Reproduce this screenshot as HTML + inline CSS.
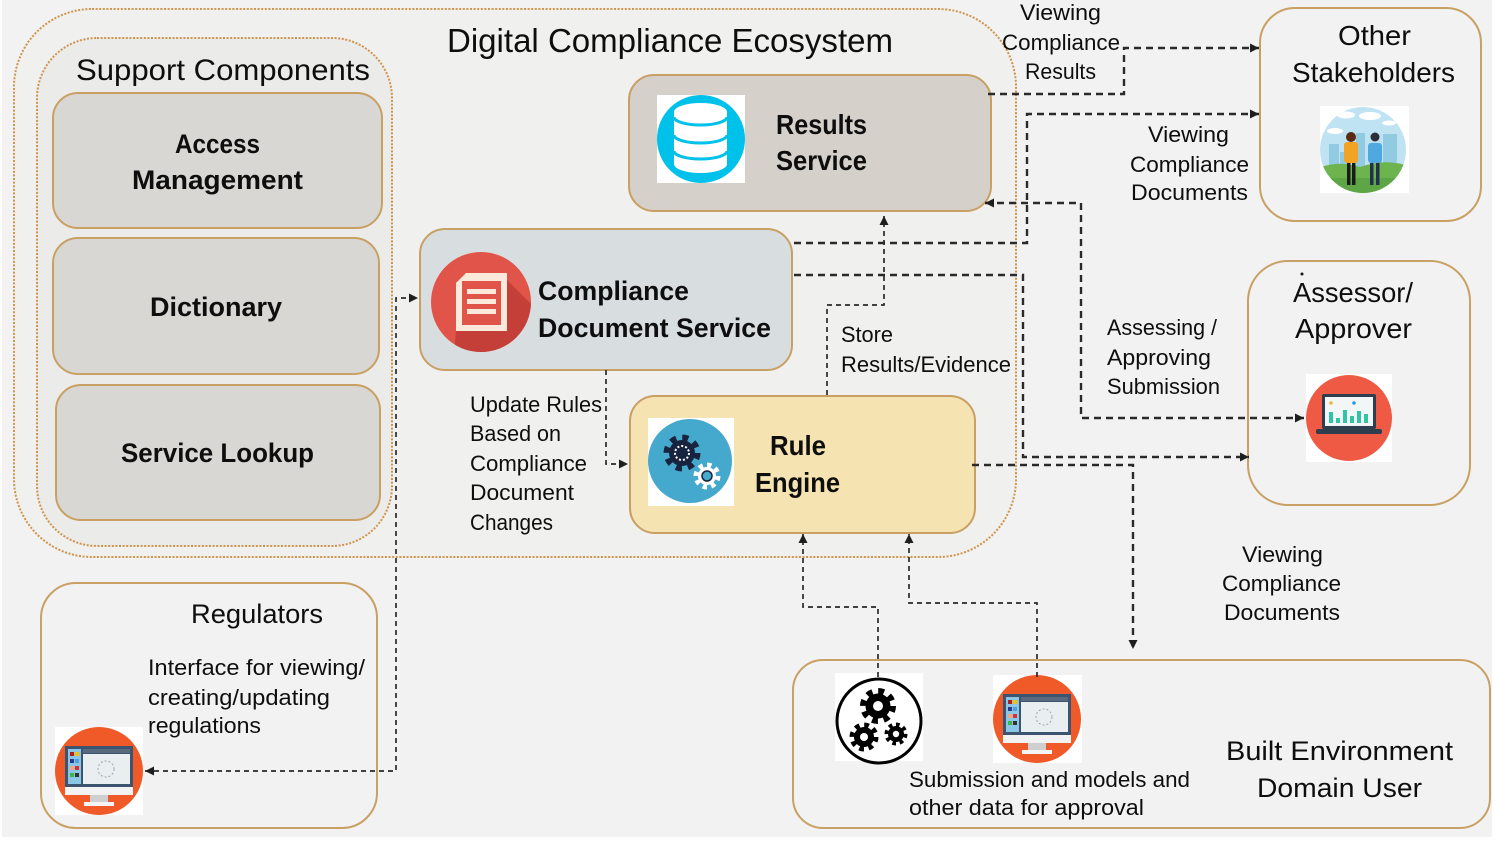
<!DOCTYPE html>
<html><head><meta charset="utf-8">
<style>
html,body{margin:0;padding:0;background:#fff;}
svg{display:block;}
text{font-family:"Liberation Sans",sans-serif;fill:#0e0e0e;}
.t22{font-size:22px;}
.b{font-weight:bold;}
</style></head>
<body>
<svg width="1500" height="845" viewBox="0 0 1500 845" xmlns="http://www.w3.org/2000/svg">
<defs>
<marker id="ah" viewBox="0 0 10 10" refX="10" refY="5" markerWidth="9" markerHeight="9" markerUnits="userSpaceOnUse" orient="auto-start-reverse">
<path d="M0,0 L10,5 L0,10 z" fill="#1e1e1e"/>
</marker>
<clipPath id="cpPeople"><circle cx="1363" cy="150" r="43"/></clipPath>
<clipPath id="cpDoc"><circle cx="481" cy="302" r="50"/></clipPath>
</defs>

<rect x="0" y="0" width="1500" height="845" fill="#ffffff"/>
<rect x="2" y="0" width="1490" height="837" fill="#f2f2f2"/>

<!-- Ecosystem boundary -->
<rect x="14" y="9" width="1002" height="548" rx="78" fill="#f0f0ef" stroke="#d0944a" stroke-width="2" stroke-dasharray="2 1.6"/>
<!-- Support components -->
<rect x="37" y="38" width="355" height="508" rx="60" fill="#ebebea" stroke="#d0944a" stroke-width="2" stroke-dasharray="2 1.6"/>

<text x="76" y="80" font-size="30" textLength="294" lengthAdjust="spacingAndGlyphs">Support Components</text>
<text x="447" y="52" font-size="33" textLength="446" lengthAdjust="spacingAndGlyphs">Digital Compliance Ecosystem</text>

<!-- Support boxes -->
<rect x="53" y="93" width="329" height="135" rx="25" fill="#d9d7d3" stroke="#c9a064" stroke-width="2"/>
<text class="b" x="175" y="153" font-size="27" textLength="85" lengthAdjust="spacingAndGlyphs">Access</text>
<text class="b" x="132" y="189" font-size="27" textLength="171" lengthAdjust="spacingAndGlyphs">Management</text>

<rect x="53" y="238" width="326" height="136" rx="25" fill="#d9d7d3" stroke="#c9a064" stroke-width="2"/>
<text class="b" x="150" y="316" font-size="27" textLength="132" lengthAdjust="spacingAndGlyphs">Dictionary</text>

<rect x="56" y="385" width="324" height="135" rx="25" fill="#d9d7d3" stroke="#c9a064" stroke-width="2"/>
<text class="b" x="121" y="462" font-size="27" textLength="193" lengthAdjust="spacingAndGlyphs">Service Lookup</text>

<!-- Results Service -->
<rect x="629" y="75" width="362" height="136" rx="25" fill="#d5d1ca" stroke="#c9a064" stroke-width="2"/>
<rect x="657" y="95" width="88" height="88" fill="#ffffff"/>
<circle cx="701" cy="139" r="44" fill="#00c1ea"/>
<path d="M674,112 a26.5,9 0 0,1 53,0 V164 a26.5,9 0 0,1 -53,0 Z" fill="#ffffff"/>
<path d="M674,117 a26.5,8 0 0,0 53,0" fill="none" stroke="#00c1ea" stroke-width="3"/>
<path d="M674,135 a26.5,8 0 0,0 53,0" fill="none" stroke="#00c1ea" stroke-width="3"/>
<path d="M674,151 a26.5,8 0 0,0 53,0" fill="none" stroke="#00c1ea" stroke-width="3"/>
<text class="b" x="776" y="134" font-size="28" textLength="91" lengthAdjust="spacingAndGlyphs">Results</text>
<text class="b" x="776" y="170" font-size="28" textLength="91" lengthAdjust="spacingAndGlyphs">Service</text>

<!-- Compliance Document Service -->
<rect x="420" y="229" width="372" height="141" rx="25" fill="#d8dee0" stroke="#c9a064" stroke-width="2"/>
<circle cx="481" cy="302" r="50" fill="#e1544a"/>
<g clip-path="url(#cpDoc)">
<polygon points="507,280 560,333 540,400 450,400 456,331 507,331" fill="#c33f37"/>
</g>
<path d="M466,273 H507 V331 H456 V283 Z" fill="#fbeadb"/>
<rect x="462" y="281" width="39" height="44" fill="#e1544a"/>
<rect x="467" y="289" width="29" height="5" fill="#fbeadb"/>
<rect x="467" y="299" width="29" height="5" fill="#fbeadb"/>
<rect x="467" y="309" width="29" height="5" fill="#fbeadb"/>
<text class="b" x="538" y="300" font-size="27" textLength="151" lengthAdjust="spacingAndGlyphs">Compliance</text>
<text class="b" x="538" y="337" font-size="27" textLength="233" lengthAdjust="spacingAndGlyphs">Document Service</text>

<!-- Rule Engine -->
<rect x="630" y="396" width="345" height="137" rx="25" fill="#f5e3b2" stroke="#c9a064" stroke-width="2"/>
<rect x="648" y="418" width="86" height="88" fill="#ffffff"/>
<circle cx="690" cy="461" r="42" fill="#45a8cd"/>
<circle cx="682" cy="453" r="15.5" fill="none" stroke="#18243f" stroke-width="6" stroke-dasharray="6.1 6.1"/>
<circle cx="682" cy="453" r="13" fill="#18243f"/>
<circle cx="682" cy="453" r="7" fill="none" stroke="#ffffff" stroke-width="2" stroke-dasharray="2 2"/>
<circle cx="682" cy="453" r="4" fill="#18243f"/>
<circle cx="707" cy="476" r="11" fill="none" stroke="#ffffff" stroke-width="5" stroke-dasharray="4.3 4.3"/>
<circle cx="707" cy="476" r="9" fill="#ffffff"/>
<circle cx="707" cy="476" r="5" fill="#45a8cd" stroke="#18243f" stroke-width="1.5"/>
<text class="b" x="770" y="455" font-size="28" textLength="56" lengthAdjust="spacingAndGlyphs">Rule</text>
<text class="b" x="755" y="492" font-size="28" textLength="85" lengthAdjust="spacingAndGlyphs">Engine</text>

<!-- Labels inside ecosystem -->
<text class="t22" x="841" y="342" textLength="52" lengthAdjust="spacingAndGlyphs">Store</text>
<text class="t22" x="841" y="372" textLength="170" lengthAdjust="spacingAndGlyphs">Results/Evidence</text>
<text class="t22" x="470" y="412" textLength="132" lengthAdjust="spacingAndGlyphs">Update Rules</text>
<text class="t22" x="470" y="441" textLength="91" lengthAdjust="spacingAndGlyphs">Based on</text>
<text class="t22" x="470" y="471" textLength="117" lengthAdjust="spacingAndGlyphs">Compliance</text>
<text class="t22" x="470" y="500" textLength="104" lengthAdjust="spacingAndGlyphs">Document</text>
<text class="t22" x="470" y="530" textLength="83" lengthAdjust="spacingAndGlyphs">Changes</text>

<!-- Other Stakeholders -->
<rect x="1260" y="8" width="221" height="213" rx="35" fill="#f2f2f2" stroke="#c9a064" stroke-width="2"/>
<text x="1338" y="45" font-size="28" textLength="73" lengthAdjust="spacingAndGlyphs">Other</text>
<text x="1292" y="82" font-size="28" textLength="163" lengthAdjust="spacingAndGlyphs">Stakeholders</text>
<rect x="1320" y="106" width="89" height="87" fill="#ffffff"/>
<g clip-path="url(#cpPeople)">
<rect x="1318" y="105" width="90" height="90" fill="#bfe3f3"/>
<ellipse cx="1346" cy="115" rx="9" ry="3.5" fill="#ffffff"/>
<ellipse cx="1370" cy="116" rx="11" ry="4" fill="#ffffff"/>
<ellipse cx="1335" cy="131" rx="8" ry="3" fill="#ffffff"/>
<ellipse cx="1389" cy="123" rx="7" ry="2.5" fill="#ffffff"/>
<rect x="1329" y="144" width="10" height="30" fill="#90cbe2"/>
<rect x="1340" y="152" width="8" height="20" fill="#90cbe2"/>
<rect x="1356" y="133" width="9" height="40" fill="#90cbe2"/>
<rect x="1383" y="134" width="14" height="40" fill="#90cbe2"/>
<path d="M1318,168 Q1340,160 1360,167 Q1385,158 1408,166 V195 H1318 Z" fill="#6db34e"/>
<rect x="1318" y="178" width="90" height="20" fill="#5ea645"/>
</g>
<circle cx="1351" cy="137" r="5" fill="#5a2a12"/>
<rect x="1344" y="142" width="14" height="21" rx="3" fill="#f3a323"/>
<rect x="1347" y="163" width="3.5" height="22" fill="#1a1a1a"/>
<rect x="1352" y="163" width="3.5" height="22" fill="#1a1a1a"/>
<circle cx="1375" cy="137" r="4.5" fill="#2d2d3a"/>
<rect x="1368" y="143" width="14" height="20" rx="3" fill="#4fa9e0"/>
<rect x="1370" y="163" width="3.5" height="22" fill="#22304d"/>
<rect x="1376" y="163" width="3.5" height="22" fill="#22304d"/>

<!-- Top labels -->
<text class="t22" x="1020" y="20" textLength="81" lengthAdjust="spacingAndGlyphs">Viewing</text>
<text class="t22" x="1002" y="50" textLength="118" lengthAdjust="spacingAndGlyphs">Compliance</text>
<text class="t22" x="1025" y="79" textLength="71" lengthAdjust="spacingAndGlyphs">Results</text>

<text class="t22" x="1148" y="142" textLength="81" lengthAdjust="spacingAndGlyphs">Viewing</text>
<text class="t22" x="1130" y="172" textLength="119" lengthAdjust="spacingAndGlyphs">Compliance</text>
<text class="t22" x="1131" y="200" textLength="117" lengthAdjust="spacingAndGlyphs">Documents</text>

<!-- Assessor/Approver -->
<rect x="1248" y="261" width="222" height="244" rx="40" fill="#f2f2f2" stroke="#c9a064" stroke-width="2"/>
<circle cx="1302" cy="274" r="1.5" fill="#141414"/>
<text x="1293" y="302" font-size="28" textLength="120" lengthAdjust="spacingAndGlyphs">Assessor/</text>
<text x="1295" y="338" font-size="28" textLength="117" lengthAdjust="spacingAndGlyphs">Approver</text>
<rect x="1306" y="374" width="86" height="88" fill="#ffffff"/>
<circle cx="1349" cy="418" r="43" fill="#ee5a44"/>
<rect x="1322" y="394" width="54" height="35" rx="2" fill="#2f3e4e"/>
<rect x="1325" y="397" width="48" height="29" fill="#f3f6f7"/>
<circle cx="1331" cy="403" r="1.8" fill="#f3b33d"/>
<circle cx="1354" cy="403" r="1.8" fill="#2d9be0"/>
<rect x="1329" y="412" width="4" height="11" fill="#2ec4a5"/>
<rect x="1336" y="418" width="4" height="5" fill="#2ec4a5"/>
<rect x="1343" y="410" width="4" height="13" fill="#2ec4a5"/>
<rect x="1350" y="416" width="4" height="7" fill="#2ec4a5"/>
<rect x="1357" y="411" width="4" height="12" fill="#2ec4a5"/>
<rect x="1364" y="414" width="4" height="9" fill="#2ec4a5"/>
<rect x="1316" y="429" width="66" height="5" rx="2" fill="#2f3e4e"/>

<text class="t22" x="1107" y="335" textLength="110" lengthAdjust="spacingAndGlyphs">Assessing /</text>
<text class="t22" x="1107" y="365" textLength="104" lengthAdjust="spacingAndGlyphs">Approving</text>
<text class="t22" x="1107" y="394" textLength="113" lengthAdjust="spacingAndGlyphs">Submission</text>

<text class="t22" x="1242" y="562" textLength="81" lengthAdjust="spacingAndGlyphs">Viewing</text>
<text class="t22" x="1222" y="591" textLength="119" lengthAdjust="spacingAndGlyphs">Compliance</text>
<text class="t22" x="1224" y="620" textLength="116" lengthAdjust="spacingAndGlyphs">Documents</text>

<!-- Built Environment Domain User -->
<rect x="793" y="660" width="697" height="168" rx="30" fill="#f2f2f2" stroke="#c9a064" stroke-width="2"/>
<text x="1226" y="760" font-size="27" textLength="227" lengthAdjust="spacingAndGlyphs">Built Environment</text>
<text x="1257" y="797" font-size="27" textLength="165" lengthAdjust="spacingAndGlyphs">Domain User</text>
<text class="t22" x="909" y="787" textLength="281" lengthAdjust="spacingAndGlyphs">Submission and models and</text>
<text class="t22" x="909" y="815" textLength="235" lengthAdjust="spacingAndGlyphs">other data for approval</text>

<!-- gears icon -->
<rect x="835" y="673" width="88" height="88" fill="#ffffff"/>
<ellipse cx="879" cy="721" rx="42" ry="42" fill="#ffffff" stroke="#000" stroke-width="3"/>
<circle cx="878" cy="706" r="15" fill="none" stroke="#000" stroke-width="6" stroke-dasharray="5.9 5.9"/>
<circle cx="878" cy="706" r="12.5" fill="#000"/>
<circle cx="878" cy="706" r="5" fill="#fff"/>
<circle cx="864" cy="737" r="12" fill="none" stroke="#000" stroke-width="5" stroke-dasharray="4.7 4.7"/>
<circle cx="864" cy="737" r="10" fill="#000"/>
<circle cx="864" cy="737" r="4" fill="#fff"/>
<circle cx="896" cy="734" r="9.5" fill="none" stroke="#000" stroke-width="4" stroke-dasharray="3.7 3.7"/>
<circle cx="896" cy="734" r="8" fill="#000"/>
<circle cx="896" cy="734" r="3.2" fill="#fff"/>

<!-- monitor icon (built env) -->
<rect x="993" y="675" width="89" height="88" fill="#ffffff"/>
<g transform="translate(1037,719)">
<circle cx="0" cy="0" r="44" fill="#f05a28"/>
<rect x="-34" y="-25" width="68" height="41" fill="#3d5470"/>
<rect x="-31" y="-22" width="13" height="35" fill="#8cc6e6"/>
<rect x="-16" y="-17" width="47" height="30" fill="#e9eef1"/>
<rect x="-16" y="-22" width="47" height="4" fill="#5a6a7e"/>
<rect x="-29" y="-19" width="4" height="4" fill="#b01e1e"/>
<rect x="-24" y="-19" width="4" height="4" fill="#f3c200"/>
<rect x="-29" y="-12" width="4" height="4" fill="#2b3a8c"/>
<rect x="-24" y="-12" width="4" height="4" fill="#4aa3df"/>
<rect x="-29" y="-5" width="4" height="4" fill="#f2a57e"/>
<rect x="-24" y="-5" width="4" height="4" fill="#d92e2e"/>
<rect x="-29" y="2" width="4" height="4" fill="#3bb54a"/>
<rect x="-24" y="2" width="4" height="4" fill="#333"/>
<circle cx="7" cy="-2" r="8" fill="none" stroke="#9aa7b4" stroke-width="1" stroke-dasharray="2 2"/>
<rect x="-34" y="16" width="68" height="8" fill="#f2f2f2"/>
<rect x="-9" y="24" width="18" height="7" fill="#cfcfcf"/>
<rect x="-15" y="31" width="30" height="4" fill="#f4f4f4"/>
</g>

<!-- Regulators -->
<rect x="41" y="583" width="336" height="245" rx="35" fill="#f2f2f2" stroke="#c9a064" stroke-width="2"/>
<text x="191" y="623" font-size="27" textLength="132" lengthAdjust="spacingAndGlyphs">Regulators</text>
<text class="t22" x="148" y="675" textLength="217" lengthAdjust="spacingAndGlyphs">Interface for viewing/</text>
<text class="t22" x="148" y="705" textLength="182" lengthAdjust="spacingAndGlyphs">creating/updating</text>
<text class="t22" x="148" y="733" textLength="113" lengthAdjust="spacingAndGlyphs">regulations</text>
<rect x="55" y="727" width="88" height="88" fill="#ffffff"/>
<g transform="translate(99,771)">
<circle cx="0" cy="0" r="44" fill="#f05a28"/>
<rect x="-34" y="-25" width="68" height="41" fill="#3d5470"/>
<rect x="-31" y="-22" width="13" height="35" fill="#8cc6e6"/>
<rect x="-16" y="-17" width="47" height="30" fill="#e9eef1"/>
<rect x="-16" y="-22" width="47" height="4" fill="#5a6a7e"/>
<rect x="-29" y="-19" width="4" height="4" fill="#b01e1e"/>
<rect x="-24" y="-19" width="4" height="4" fill="#f3c200"/>
<rect x="-29" y="-12" width="4" height="4" fill="#2b3a8c"/>
<rect x="-24" y="-12" width="4" height="4" fill="#4aa3df"/>
<rect x="-29" y="-5" width="4" height="4" fill="#f2a57e"/>
<rect x="-24" y="-5" width="4" height="4" fill="#d92e2e"/>
<rect x="-29" y="2" width="4" height="4" fill="#3bb54a"/>
<rect x="-24" y="2" width="4" height="4" fill="#333"/>
<circle cx="7" cy="-2" r="8" fill="none" stroke="#9aa7b4" stroke-width="1" stroke-dasharray="2 2"/>
<rect x="-34" y="16" width="68" height="8" fill="#f2f2f2"/>
<rect x="-9" y="24" width="18" height="7" fill="#cfcfcf"/>
<rect x="-15" y="31" width="30" height="4" fill="#f4f4f4"/>
</g>

<!-- Connectors (thick) -->
<g fill="none" stroke="#2a2a2a" stroke-width="2.4" stroke-dasharray="7 5">
<path d="M988,94 H1124 V48 H1259" marker-end="url(#ah)"/>
<path d="M794,243 H1027 V114 H1259" marker-end="url(#ah)"/>
<path d="M794,275 H1023 V457 H1249" marker-end="url(#ah)"/>
<path d="M972,465 H1133 V649" marker-end="url(#ah)"/>
<path d="M985,203 H1081 V418 H1304" marker-start="url(#ah)" marker-end="url(#ah)"/>
</g>
<!-- Connectors (thin) -->
<g fill="none" stroke="#2a2a2a" stroke-width="1.7" stroke-dasharray="5 4">
<path d="M827,395 V305 H884 V216" marker-end="url(#ah)"/>
<path d="M606,370 V464 H628" marker-end="url(#ah)"/>
<path d="M145,771 H396 V298 H418" marker-start="url(#ah)" marker-end="url(#ah)"/>
<path d="M878,677 V607 H803 V534" marker-end="url(#ah)"/>
<path d="M1037,677 V603 H909 V534" marker-end="url(#ah)"/>
</g>
</svg>
</body></html>
